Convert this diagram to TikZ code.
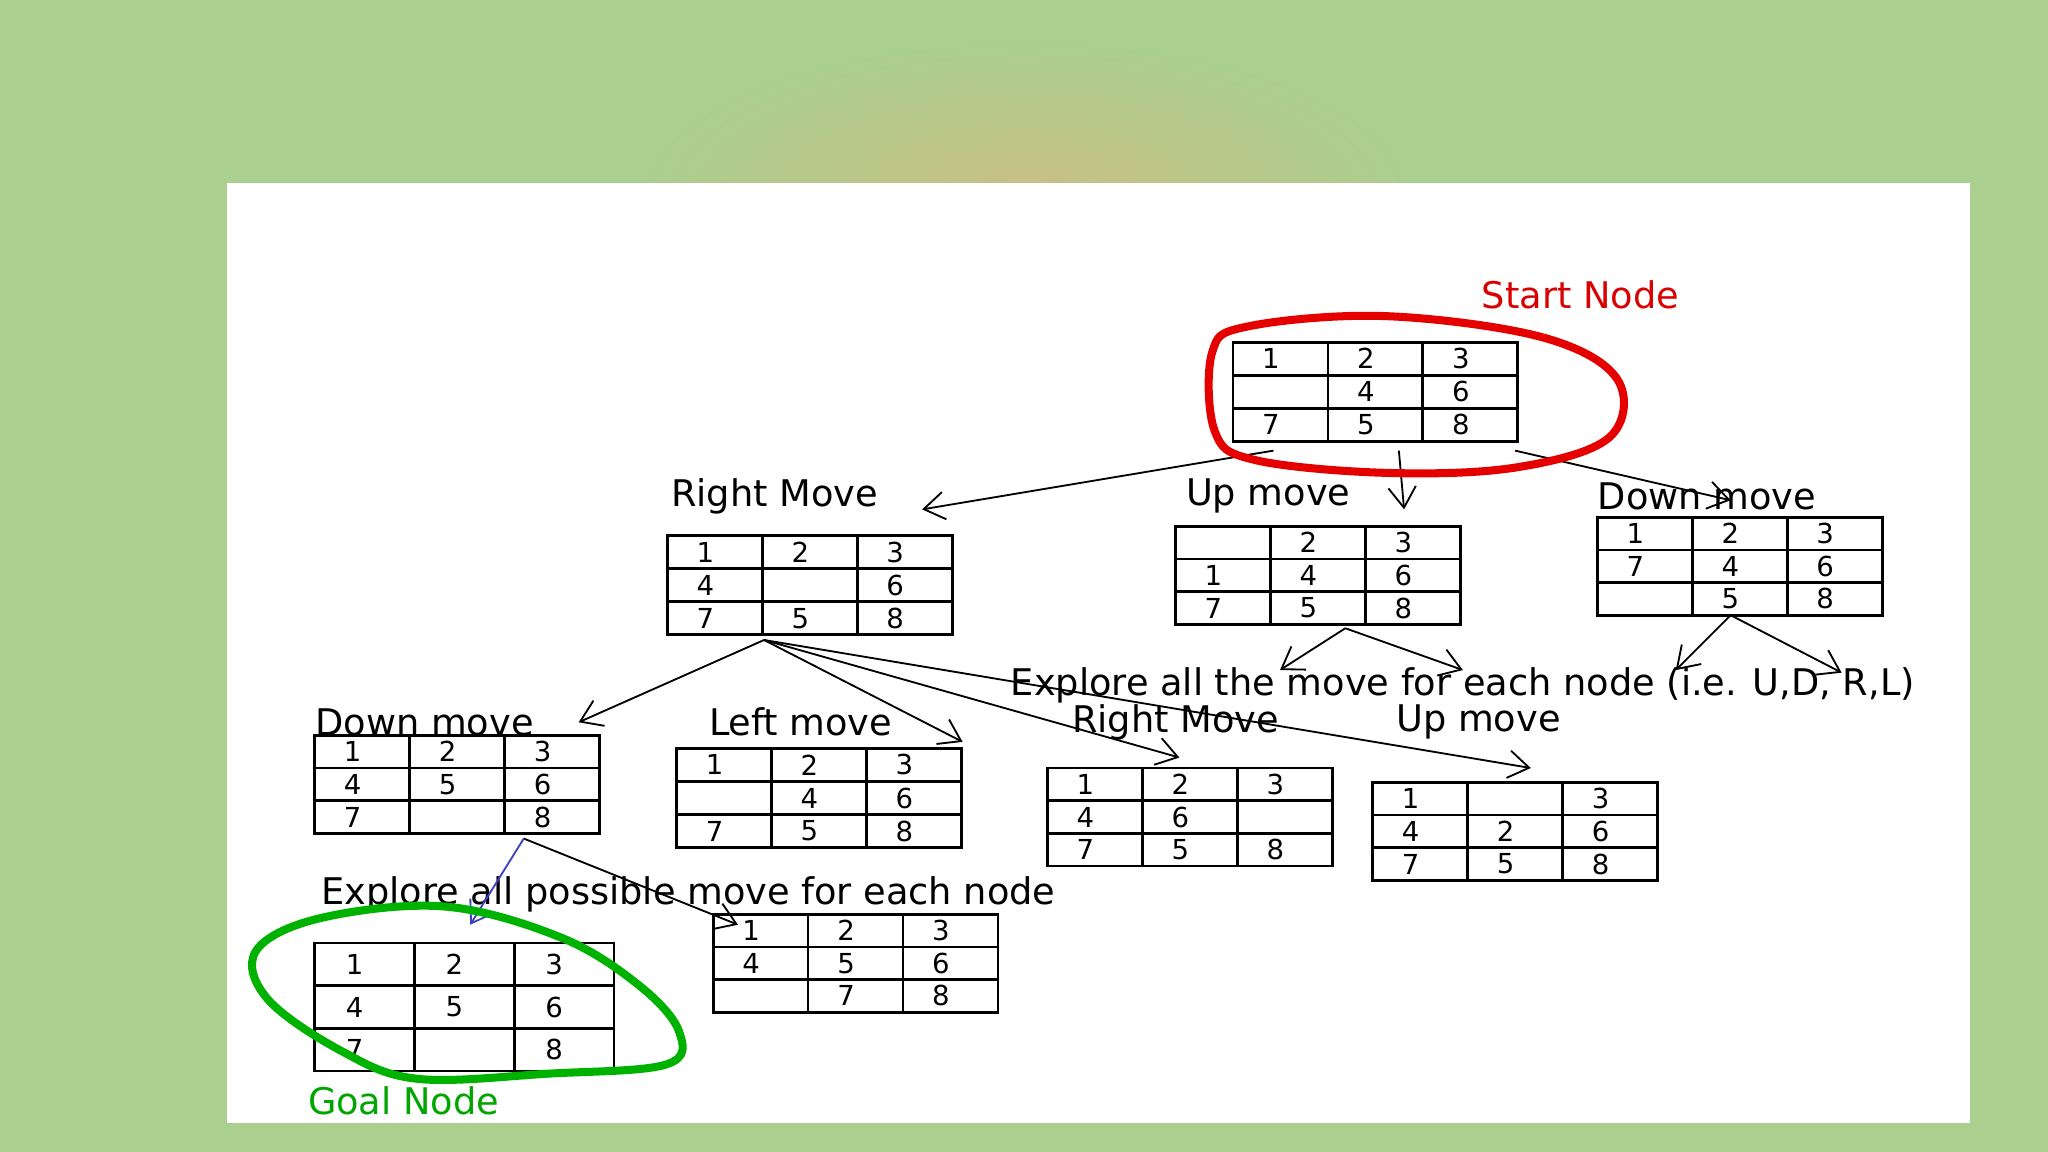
\documentclass[tikz,border=0pt]{standalone}
\usepackage{fontspec}
\setmainfont{DejaVu Sans}
\usetikzlibrary{arrows.meta}
\definecolor{bggreen}{HTML}{AACF8F}
\definecolor{glow}{HTML}{C9BF85}
\tikzset{
 lbl/.style={font=\fontsize{16}{18}\selectfont},
 cell/.style={font=\fontsize{12}{14}\selectfont},
 arr/.style={-{Straight Barb[length=9pt,width=12pt]},line width=0.8pt},
 pz/.style={line width=1.2pt}
}
\newcommand\puzzle[6]{%
 \draw[pz] (#2,#3) rectangle (#4,#5);
 \coordinate (#1) at ({(#2+#4)/2},{(#3+#5)/2});
 \foreach \i in {1,2} {\draw[pz] ({#2+\i*(#4-#2)/3},#3) -- ({#2+\i*(#4-#2)/3},#5);
   \draw[pz] (#2,{#3+\i*(#5-#3)/3}) -- (#4,{#3+\i*(#5-#3)/3});}
 \foreach \v [count=\k from 0] in {#6} {
   \pgfmathtruncatemacro\r{floor(\k/3)}\pgfmathtruncatemacro\c{mod(\k,3)}
   \node[cell] (#1-\k) at ({#2+(\c+0.4)*(#4-#2)/3},{#3+(\r+0.5)*(#5-#3)/3}) {\v};}
}
\begin{document}
\begin{tikzpicture}[x=0.02cm,y=-0.02cm]
\fill[bggreen] (0,0) rectangle (1568,882);
\begin{scope}
\clip (0,0) rectangle (1568,140);
\shade[inner color=glow,outer color=bggreen] (785,150) ellipse (300 and 120);
\end{scope}
\fill[white] (174,140) rectangle (1508,860);
\useasboundingbox (0,0) rectangle (1568,882);

\puzzle{s}{944}{262}{1162}{338}{1,2,3,{},4,6,7,5,8}
\puzzle{rm}{511}{410}{729}{486}{1,2,3,4,{},6,7,5,8}
\puzzle{um}{900}{403}{1118}{478}{{},2,3,1,4,6,7,5,8}
\puzzle{dm}{1223}{396}{1441}{471}{1,2,3,7,4,6,{},5,8}
\puzzle{dl}{241}{563}{459}{638}{1,2,3,4,5,6,7,{},8}
\puzzle{lm}{518}{573}{736}{649}{1,2,3,{},4,6,7,5,8}
\puzzle{rr}{802}{588}{1020}{663}{1,2,3,4,6,{},7,5,8}
\puzzle{uu}{1051}{599}{1269}{674}{1,{},3,4,2,6,7,5,8}
\puzzle{bm}{546}{700}{764}{775}{1,2,3,4,5,6,{},7,8}
\puzzle{g}{241}{722}{470}{820}{1,2,3,4,5,6,7,{},8}

\node[lbl,text=red!85!black] (tstart) at (1210,226) {Start Node};
\node[lbl] (t1) at (593,380) {Right Move};
\node[lbl] (t2) at (971,380) {Up move};
\node[lbl] (t3) at (1307,380) {Down move};
\node[lbl] (t4) at (1120,525) {Explore all the move for each node (i.e. U,D, R,L)};
\node[lbl] (t5) at (325,553) {Down move};
\node[lbl] (t6) at (613,553) {Left move};
\node[lbl] (t7) at (900,553) {Right Move};
\node[lbl] (t8) at (1132,553) {Up move};
\node[lbl] (t9) at (527,685) {Explore all possible move for each node};
\node[lbl,text=green!65!black] (tgoal) at (309,843) {Goal Node};

\coordinate (a1) at (975,345); \coordinate (b1) at (706,390);
\coordinate (a2) at (1071,345); \coordinate (b2) at (1075,390);
\coordinate (a3) at (1160,345); \coordinate (b3) at (1325,383);
\coordinate (r0) at (585,490);
\coordinate (r1) at (443,553); \coordinate (r2) at (737,568);
\coordinate (r3) at (903,580); \coordinate (r4) at (1172,588);
\coordinate (u0) at (1030,481); \coordinate (u1) at (980,513); \coordinate (u2) at (1120,513);
\coordinate (d0) at (1325,471); \coordinate (d1) at (1283,513); \coordinate (d2) at (1410,515);
\coordinate (l0) at (401,642); \coordinate (l1) at (565,708); \coordinate (l2) at (360,708);
\draw[arr] (a1) -- (b1);
\draw[arr] (a2) -- (b2);
\draw[arr] (a3) -- (b3);
\foreach \t in {r1,r2,r3,r4} \draw[arr] (r0) -- (\t);
\draw[arr] (u0) -- (u1); \draw[arr] (u0) -- (u2);
\draw[arr] (d0) -- (d1); \draw[arr] (d0) -- (d2);
\draw[arr] (l0) -- (l1);
\draw[arr,color=blue!50!gray] (l0) -- (l2);

\draw[red!90!black,line width=3.5pt,line cap=round] plot[smooth cycle,tension=0.6] coordinates
 {(955,250) (1060,242) (1180,258) (1238,290) (1232,335) (1160,358) (1060,362) (960,352) (930,330) (928,270)};
\draw[green!70!black,line width=3.5pt,line cap=round] plot[smooth cycle,tension=0.6] coordinates
 {(245,703) (340,694) (430,718) (490,755) (520,790) (510,815) (420,822) (320,826) (262,805) (205,765) (196,728)};
\end{tikzpicture}
\end{document}
